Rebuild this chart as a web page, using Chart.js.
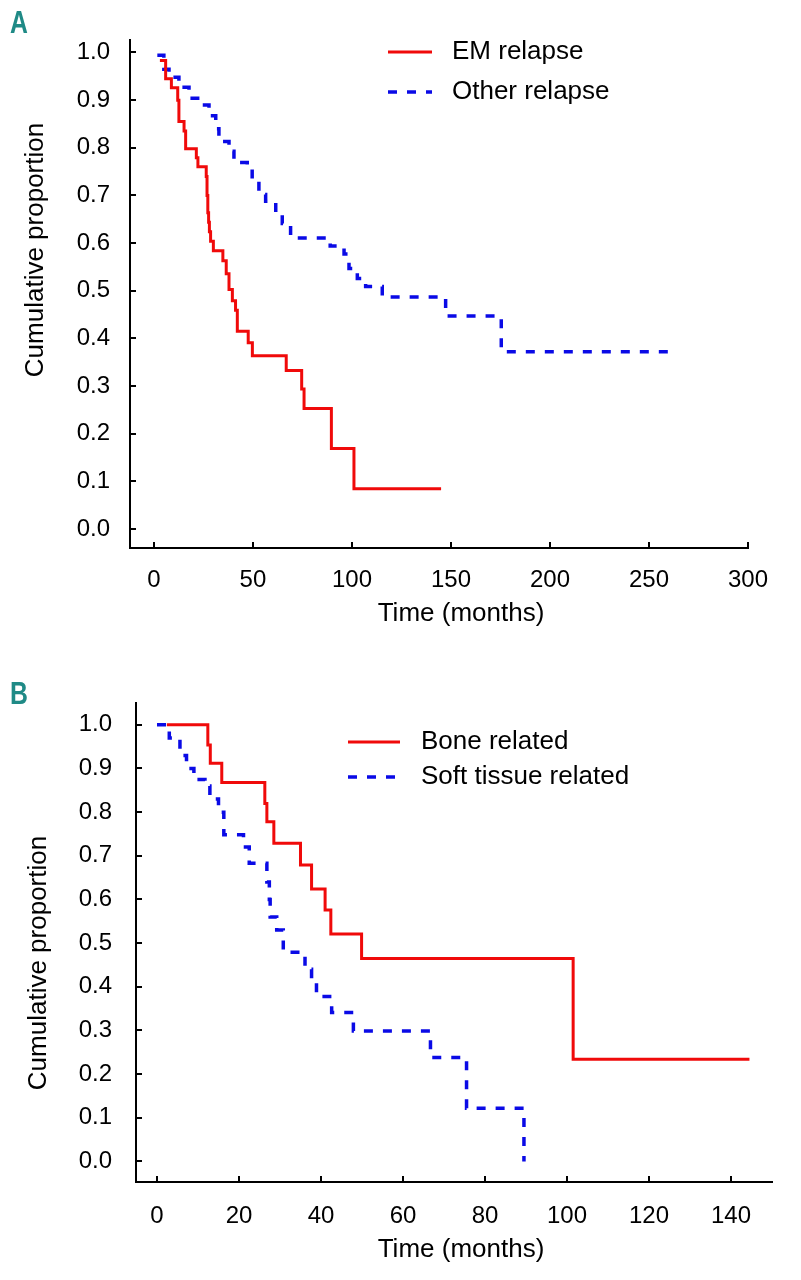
<!DOCTYPE html>
<html><head><meta charset="utf-8">
<script src="https://cdn.jsdelivr.net/npm/chart.js@4.4.1/dist/chart.umd.min.js"></script>
<style>
html,body{margin:0;padding:0;background:#fff;}
#wrap{position:relative;width:801px;height:1280px;overflow:hidden;background:#fff;}
.box{position:absolute;left:0;width:801px;}
.panel{position:absolute;font-family:'Liberation Sans',Arial,sans-serif;font-weight:bold;font-size:31px;color:#1f8a86;transform:scaleX(0.8);transform-origin:left top;line-height:1;}
</style></head><body>
<div id="wrap">
 <div class="box" style="top:0;height:650px"><canvas id="chartA"></canvas></div>
 <div class="box" style="top:650px;height:630px"><canvas id="chartB"></canvas></div>
 <div class="panel" style="left:10px;top:7px">A</div>
 <div class="panel" style="left:10px;top:678px">B</div>
</div>
<script>
// ---------- data ----------
const yTickValues = [0.0, 0.1, 0.2, 0.3, 0.4, 0.5, 0.6, 0.7, 0.8, 0.9, 1.0];
const xTicksA = [0, 50, 100, 150, 200, 250, 300];
const xTicksB = [0, 20, 40, 60, 80, 100, 120, 140];
const namesA = ['EM relapse', 'Other relapse'];
const namesB = ['Bone related', 'Soft tissue related'];
const xTitle = 'Time (months)';
const yTitle = 'Cumulative proportion';

// Panel A : EM relapse (time in months, cumulative proportion after each step)
const emTime = [3, 5.9, 8.8, 12.0, 12.6, 15.2, 16.0, 21.4, 22.2, 26.4, 26.8, 27.2, 27.6, 28.0, 28.6, 30.0, 34.8, 36.5, 37.9, 39.6, 41.2, 42.1, 47.6, 49.7, 66.8, 74.6, 75.8, 89.6, 101.0, 145];
const emProp = [0.983, 0.945, 0.926, 0.90, 0.855, 0.835, 0.798, 0.779, 0.760, 0.74, 0.70, 0.664, 0.644, 0.624, 0.604, 0.584, 0.563, 0.536, 0.503, 0.479, 0.459, 0.415, 0.391, 0.364, 0.333, 0.294, 0.253, 0.169, 0.085, 0.085];
// Panel A : Other relapse
const otherTime = [1.7, 5.0, 7.6, 12.6, 17.7, 24.4, 27.8, 31.2, 32.8, 37.9, 40.4, 47.1, 49.6, 53.0, 56.4, 61.5, 64.8, 69.0, 89.0, 96.0, 98.5, 102.7, 106.9, 115.3, 147.3, 175.4, 264];
const otherProp = [0.994, 0.965, 0.948, 0.927, 0.904, 0.890, 0.867, 0.840, 0.813, 0.793, 0.769, 0.759, 0.732, 0.702, 0.688, 0.665, 0.641, 0.611, 0.594, 0.577, 0.547, 0.526, 0.509, 0.487, 0.447, 0.372, 0.372];
// Panel B : Bone related
const boneTime = [2.4, 12.4, 13.0, 15.8, 26.3, 26.8, 28.5, 35.0, 37.7, 41.0, 42.4, 49.9, 101.5, 144.5];
const boneProp = [1.0, 0.954, 0.912, 0.868, 0.82, 0.778, 0.729, 0.679, 0.624, 0.576, 0.521, 0.465, 0.234, 0.234];
// Panel B : Soft tissue related
const softTime = [0, 3.0, 5.6, 7.2, 9.0, 11.7, 12.9, 15.0, 16.3, 21.1, 22.5, 26.8, 27.4, 27.6, 29.2, 30.8, 36.1, 37.7, 38.9, 42.6, 47.9, 66.7, 75.5, 89.5];
const softProp = [1.0, 0.97, 0.93, 0.90, 0.875, 0.86, 0.83, 0.80, 0.748, 0.72, 0.683, 0.64, 0.60, 0.56, 0.53, 0.479, 0.44, 0.41, 0.378, 0.341, 0.299, 0.238, 0.122, 0.0];

// ---------- styling ----------
const FONT = "'Liberation Sans', Arial, Helvetica, sans-serif";
Chart.defaults.font.family = FONT;
Chart.defaults.color = '#000';
const RED = '#f00a0a';
const BLUE = '#0a0ae6';
const DASH = [9, 10];

const toPts = (xs, ys) => xs.map((x, i) => ({x: x, y: ys[i]}));

const kmDecor = {
  id: 'kmDecor',
  afterDraw(chart, args, o) {
    const ctx = chart.ctx;
    ctx.save();
    ctx.fillStyle = '#000';
    ctx.textBaseline = 'middle';
    ctx.textAlign = 'center';
    ctx.font = o.titleSize + 'px ' + FONT;
    ctx.fillText(o.xTitle, o.xTitlePos[0], o.xTitlePos[1]);
    ctx.save();
    ctx.translate(o.yTitlePos[0], o.yTitlePos[1]);
    ctx.rotate(-Math.PI / 2);
    ctx.fillText(o.yTitle, 0, 0);
    ctx.restore();
    ctx.font = o.legendSize + 'px ' + FONT;
    ctx.textAlign = 'left';
    chart.data.datasets.forEach((ds, i) => {
      const y = o.legendY[i];
      ctx.save();
      ctx.strokeStyle = ds.borderColor;
      ctx.lineWidth = ds.borderWidth;
      ctx.lineCap = 'butt';
      ctx.setLineDash(ds.borderDash || []);
      ctx.beginPath();
      ctx.moveTo(o.legendX[0], y);
      ctx.lineTo(o.legendX[1], y);
      ctx.stroke();
      ctx.restore();
      ctx.fillText(ds.label, o.legendTextX, y);
    });
    ctx.restore();
  }
};

function scale(min, max, tickVals, o) {
  return {
    type: 'linear', min: min, max: max,
    afterBuildTicks: s => { s.ticks = tickVals.map(v => ({value: v})); },
    afterFit: s => {
      if (o.width != null) s.width = o.width;
      if (o.height != null) s.height = o.height;
    },
    border: {display: true, color: '#000', width: 2},
    grid: {drawOnChartArea: false, drawTicks: true, tickLength: -6, color: '#000', lineWidth: 2},
    ticks: {font: {size: 24}, color: '#000', padding: o.pad, autoSkip: false, maxRotation: 0, callback: o.cb}
  };
}

function lineDs(label, xs, ys, color, dash, w) {
  return {
    label: label, data: toPts(xs, ys), borderColor: color, backgroundColor: color,
    borderWidth: w, borderDash: dash, stepped: 'before', pointRadius: 0,
    fill: false, tension: 0, borderCapStyle: 'butt', borderJoinStyle: 'miter'
  };
}

const fmtY = v => Number(v).toFixed(1);
const fmtX = v => String(v);

new Chart(document.getElementById('chartA'), {
  type: 'line',
  data: {datasets: [
    lineDs(namesA[0], emTime, emProp, RED, [], 3),
    lineDs(namesA[1], otherTime, otherProp, BLUE, DASH, 3.5)
  ]},
  options: {
    responsive: true, maintainAspectRatio: false, animation: false,
    layout: {padding: {top: 22, right: 53, left: 0, bottom: 0}},
    scales: {
      x: scale(-12.1, 300, xTicksA, {height: 102, pad: 24, cb: fmtX}),
      y: scale(-0.0395, 1.0253, yTickValues, {width: 130, pad: 26, cb: fmtY})
    },
    plugins: {
      legend: {display: false}, tooltip: {enabled: false},
      kmDecor: {titleSize: 26, legendSize: 26, xTitle: xTitle, yTitle: yTitle,
        xTitlePos: [461, 614], yTitlePos: [36, 250],
        legendX: [388, 432], legendTextX: 452, legendY: [52, 92]}
    }
  },
  plugins: [kmDecor]
});

new Chart(document.getElementById('chartB'), {
  type: 'line',
  data: {datasets: [
    lineDs(namesB[0], boneTime, boneProp, RED, [], 3),
    lineDs(namesB[1], softTime, softProp, BLUE, DASH, 3.5)
  ]},
  options: {
    responsive: true, maintainAspectRatio: false, animation: false,
    layout: {padding: {top: 53, right: 29, left: 0, bottom: 0}},
    scales: {
      x: scale(-5.12, 150, xTicksB, {height: 98, pad: 26, cb: fmtX}),
      y: scale(-0.047, 1.050, yTickValues, {width: 136, pad: 30, cb: fmtY})
    },
    plugins: {
      legend: {display: false}, tooltip: {enabled: false},
      kmDecor: {titleSize: 26, legendSize: 26, xTitle: xTitle, yTitle: yTitle,
        xTitlePos: [461, 600], yTitlePos: [39, 313],
        legendX: [348, 400], legendTextX: 421, legendY: [92, 127]}
    }
  },
  plugins: [kmDecor]
});
</script>
</body></html>
